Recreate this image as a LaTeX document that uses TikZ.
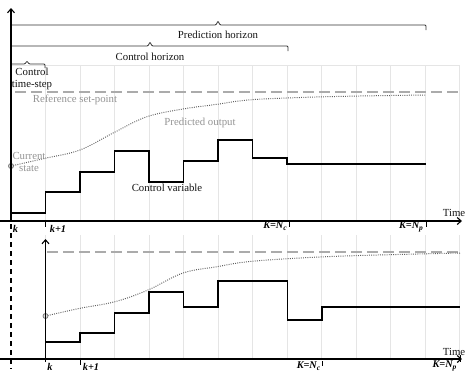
\documentclass[tikz,border=0pt]{standalone}
\usepackage{fontspec}
\setmainfont{Liberation Serif}
\usetikzlibrary{arrows.meta}
\newcommand{\lowsub}[1]{\raisebox{-2pt}{\fontsize{7.5}{7.5}\selectfont #1}}
\begin{document}
\begin{tikzpicture}[x=1pt,y=-1pt,
  lbl/.style={font=\fontsize{10.8}{11.5}\selectfont, inner sep=0pt, text=black!92, align=center},
  glbl/.style={lbl, text=black!42},
  klbl/.style={font=\fontsize{10.3}{11}\selectfont\bfseries\itshape, inner sep=0pt},
  axisln/.style={line width=1.2pt, -{Straight Barb[length=4pt,width=7pt,line width=1.1pt]}},
  gridln/.style={black!10, line width=0.5pt},
  stair/.style={line width=1.8pt, line join=miter},
  refline/.style={black!33, line width=1.5pt, dash pattern=on 11pt off 5pt},
  pred/.style={black!62, line width=1pt, dash pattern=on 0.9pt off 1.3pt},
  bracketln/.style={line width=0.8pt, black!80, rounded corners=1pt},
  tickm/.style={line width=1pt},
  statedot/.style={circle, draw=black!55, fill=black!12, minimum size=5pt, inner sep=0pt, line width=0.8pt},
]
\useasboundingbox (0,0) rectangle (474,381);

% ---------- grids ----------
\draw[gridln] (11,65) -- (460,65);
\foreach \i in {1,...,13} {
  \draw[gridln] ({11+34.5*\i},65) -- ({11+34.5*\i},221);
  \draw[gridln] ({11+34.5*\i},235) -- ({11+34.5*\i},359);
}

% ---------- top panel ----------
\coordinate (txl) at (0,221);
\coordinate (txr) at (462,221);
\coordinate (tyb) at (11,221);
\coordinate (tyt) at (11,8);
\coordinate (dash0) at (11,224);
\coordinate (dash1) at (11,369);

% brackets
\draw[bracketln] (11,25) -- (216,25) -- (218,21) -- (220,25) -- (426,25) -- (426,30);
\draw[bracketln] (11,46) -- (148,46) -- (150,42) -- (152,46) -- (288,46) -- (288,51);
\draw[bracketln] (11,64) -- (25,64) -- (27,61) -- (29,64) -- (45,64) -- (45,68);

\node[lbl] (ph) at (218,35) {Prediction horizon};
\node[lbl] (ch) at (150,57) {Control horizon};
\node[lbl] (cts) at (32,79) {Control\\time-step};

% reference
\draw[refline] (15,92) -- (460,92);
\node[glbl] (rsp) at (75,100) {Reference set-point};

% predicted output
\draw[pred] plot[smooth, tension=0.6] coordinates {(11,166) (45,158.3) (80,150) (115,132) (147,116.7) (183,109) (217,104.3) (248,100) (300,97.5) (360,96) (426,95)};
\node[statedot] (cs1) at (11,166) {};
\node[glbl] (po) at (200,123) {Predicted output};
\node[glbl] (cur) at (29,162) {Current\\state};

% control variable
\draw[stair] (11,213) -- (45.5,213) -- (45.5,192) -- (80,192) -- (80,171.7) -- (114.5,171.7) -- (114.5,151) -- (149,151) -- (149,181.7) -- (183.5,181.7) -- (183.5,160.7) -- (218,160.7) -- (218,140) -- (252.5,140) -- (252.5,157.7) -- (287,157.7) -- (287,164) -- (426,164);
\node[lbl] (cv) at (167,188) {Control variable};

% axes
\draw[axisln] (txl) -- (txr);
\draw[axisln] (tyb) -- (tyt);
\draw[line width=1.2pt, dash pattern=on 5pt off 4pt] (dash0) -- (dash1);
\node[lbl] (time1) at (454,212.5) {Time};

\node[klbl] (k1) at (15.5,228.5) {k};
\node[klbl] (kp1) at (58,228.5) {k+1};
\draw[tickm] (45.5,222) -- (45.5,227);
\node[klbl] (nc1) at (275,226.5) {K=N\lowsub{c}};
\draw[tickm] (289.3,222) -- (289.3,227);
\node[klbl] (np1) at (411,226.5) {K=N\lowsub{p}};
\draw[tickm] (426,222) -- (426,227);

% ---------- bottom panel ----------
\coordinate (bxl) at (0,359);
\coordinate (bxr) at (462,359);
\coordinate (byb) at (45.5,362);
\coordinate (byt) at (45.5,239);

\draw[refline] (47,252) -- (460,252);
\draw[pred] plot[smooth, tension=0.6] coordinates {(45.5,316) (80,308.3) (115,301.7) (148,290) (183,273) (217,266.7) (248,261.7) (300,258) (360,255.5) (460,253)};
\node[statedot] (cs2) at (45.5,316) {};

\draw[stair] (45.5,342.3) -- (80,342.3) -- (80,333.3) -- (114.5,333.3) -- (114.5,312.7) -- (149,312.7) -- (149,291.7) -- (183.5,291.7) -- (183.5,306.7) -- (218,306.7) -- (218,280.7) -- (287.5,280.7) -- (287.5,320) -- (322,320) -- (322,307.3) -- (460,307.3);

\draw[axisln] (bxl) -- (bxr);
\draw[axisln] (byb) -- (byt);
\node[lbl] (time2) at (454,352) {Time};

\node[klbl] (k2) at (50,367) {k};
\node[klbl] (kp2) at (91,367) {k+1};
\draw[tickm] (80,360) -- (80,365);
\node[klbl] (nc2) at (308.5,366) {K=N\lowsub{c}};
\draw[tickm] (322.7,361) -- (322.7,366);
\node[klbl] (np2) at (444.5,366) {K=N\lowsub{p}};
\draw[tickm] (460,355) -- (460,362);
\end{tikzpicture}
\end{document}
